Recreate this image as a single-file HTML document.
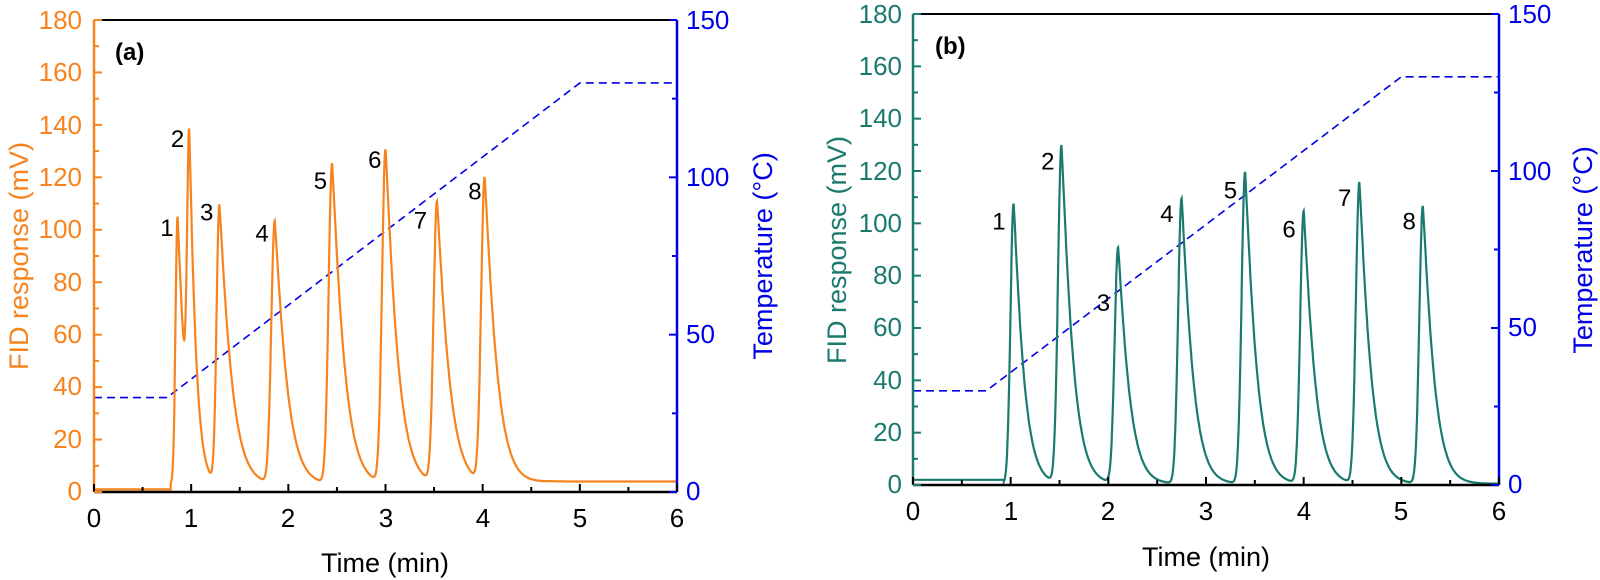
<!DOCTYPE html>
<html><head><meta charset="utf-8"><style>
html,body{margin:0;padding:0;background:#fff;}
svg{display:block;font-family:"Liberation Sans",Arial,sans-serif;}
</style></head><body>
<svg id="s" width="1600" height="580" viewBox="0 0 1600 580" xmlns="http://www.w3.org/2000/svg">
<g id="ga"></g><g id="gb"></g>
<g font-size="26" fill="#F7831E" text-anchor="end">
<text x="82" y="29">180</text><text x="82" y="81">160</text><text x="82" y="134">140</text><text x="82" y="186">120</text><text x="82" y="238">100</text><text x="82" y="291">80</text><text x="82" y="343">60</text><text x="82" y="395">40</text><text x="82" y="448">20</text><text x="82" y="500">0</text>
</g>
<text transform="translate(28,256) rotate(-90)" font-size="27" fill="#F7831E" text-anchor="middle">FID response (mV)</text>
<g font-size="26" fill="#0000E6" text-anchor="start">
<text x="686" y="29">150</text><text x="686" y="186">100</text><text x="686" y="343">50</text><text x="686" y="500">0</text>
</g>
<text transform="translate(772,256) rotate(-90)" font-size="27" fill="#0000E6" text-anchor="middle">Temperature (°C)</text>
<g font-size="26" fill="#000" text-anchor="middle">
<text x="94" y="527">0</text><text x="191" y="527">1</text><text x="288" y="527">2</text><text x="386" y="527">3</text><text x="483" y="527">4</text><text x="580" y="527">5</text><text x="677" y="527">6</text>
</g>
<text x="385" y="572" font-size="27" text-anchor="middle">Time (min)</text>
<text x="115" y="60" font-size="24" font-weight="bold">(a)</text>
<g font-size="26" fill="#1A7A6E" text-anchor="end">
<text x="902" y="23">180</text><text x="902" y="75">160</text><text x="902" y="127">140</text><text x="902" y="180">120</text><text x="902" y="232">100</text><text x="902" y="284">80</text><text x="902" y="336">60</text><text x="902" y="389">40</text><text x="902" y="441">20</text><text x="902" y="493">0</text>
</g>
<text transform="translate(846,250) rotate(-90)" font-size="27" fill="#1A7A6E" text-anchor="middle">FID response (mV)</text>
<g font-size="26" fill="#0000E6" text-anchor="start">
<text x="1508" y="23">150</text><text x="1508" y="180">100</text><text x="1508" y="336">50</text><text x="1508" y="493">0</text>
</g>
<text transform="translate(1592,250) rotate(-90)" font-size="27" fill="#0000E6" text-anchor="middle">Temperature (°C)</text>
<g font-size="26" fill="#000" text-anchor="middle">
<text x="913" y="520">0</text><text x="1011" y="520">1</text><text x="1108" y="520">2</text><text x="1206" y="520">3</text><text x="1304" y="520">4</text><text x="1401" y="520">5</text><text x="1499" y="520">6</text>
</g>
<text x="1206" y="566" font-size="27" text-anchor="middle">Time (min)</text>
<text x="935" y="54" font-size="24" font-weight="bold">(b)</text>
<g id="labs" font-size="24" fill="#000" text-anchor="middle"></g>
</svg>
<script>
var NS="http://www.w3.org/2000/svg";
function el(p,n,a){var e=document.createElementNS(NS,n);for(var k in a)e.setAttribute(k,a[k]);p.appendChild(e);return e;}
function panel(g,P){
 var X=function(t){return P.x0+(P.x1-P.x0)*t/6;};
 var Y=function(v){return P.yb-(P.yb-P.yt)*v/180;};
 var YT=function(v){return P.yb-(P.yb-P.yt)*v/150;};
 var d="M"+X(0)+","+YT(30)+" L"+X(0.75)+","+YT(30)+" L"+X(5)+","+YT(130)+" L"+X(6)+","+YT(130);
 el(g,"path",{d:d,fill:"none",stroke:"#0000E6","stroke-width":1.6,"stroke-dasharray":"8,5"});
 var pts=[];
 for(var i=0;i<=3000;i++){var t=6*i/3000;var v;
  if(t<P.start){v=P.b0;}else{v=P.b1(t);
  P.peaks.forEach(function(p){var dd=t-p[0];
   v+= dd<0? p[1]*Math.exp(-Math.pow(dd/p[2],2)) : p[1]*Math.exp(-Math.pow(dd/p[3],P.pw));});}
  pts.push(X(t).toFixed(1)+","+Y(v).toFixed(1));}
 el(g,"path",{d:"M"+pts.join(" L"),fill:"none",stroke:P.col,"stroke-width":2.2});
 el(g,"line",{x1:P.x0,y1:P.yt,x2:P.x1,y2:P.yt,stroke:"#000","stroke-width":2});
 el(g,"line",{x1:P.x0,y1:P.yb,x2:P.x1,y2:P.yb,stroke:"#000","stroke-width":2.5});
 el(g,"line",{x1:P.x0,y1:P.yt,x2:P.x0,y2:P.yb,stroke:P.col,"stroke-width":2.5});
 el(g,"line",{x1:P.x1,y1:P.yt,x2:P.x1,y2:P.yb,stroke:"#0000E6","stroke-width":2.5});
 for(var k=0;k<=12;k++){var x=X(k/2),L=k%2?5:8;el(g,"line",{x1:x,y1:P.yb,x2:x,y2:P.yb-L,stroke:"#000","stroke-width":2});}
 for(var k=0;k<=18;k++){var y=Y(k*10),L=k%2?5:8;el(g,"line",{x1:P.x0,y1:y,x2:P.x0+L,y2:y,stroke:P.col,"stroke-width":2});}
 for(var k=0;k<=6;k++){var y=YT(k*25),L=k%2?5:8;el(g,"line",{x1:P.x1,y1:y,x2:P.x1-L,y2:y,stroke:"#0000E6","stroke-width":2});}
 var lab=document.getElementById("labs");
 P.labs.forEach(function(l,i){var t=el(lab,"text",{x:X(l[0]),y:Y(l[1])+9});t.textContent=String(i+1);});
}
panel(document.getElementById("ga"),{x0:94,x1:677,yt:20,yb:492,col:"#F7831E",start:0.79,b0:1,pw:1.15,
 b1:function(t){return t<4.2?3:3+Math.min(1,(t-4.2)*2);},
 peaks:[[0.86,102,0.03,0.09],[0.98,110,0.03,0.07],[1.29,106,0.04,0.13],[1.86,100,0.05,0.13],[2.45,122,0.05,0.13],[3.0,127,0.05,0.13],[3.53,107,0.05,0.13],[4.02,116,0.05,0.13]],
 labs:[[0.75,101],[0.86,135],[1.16,107],[1.73,99],[2.33,119],[2.89,127],[3.36,104],[3.92,115]]});
panel(document.getElementById("gb"),{x0:913,x1:1499,yt:14,yb:485,col:"#1A7A6E",start:0.93,b0:2,pw:1.15,
 b1:function(t){return 0.5;},
 peaks:[[1.03,107,0.045,0.11],[1.52,129,0.05,0.12],[2.1,90,0.05,0.12],[2.75,109,0.05,0.12],[3.4,119,0.05,0.12],[4.0,104,0.05,0.12],[4.57,115,0.05,0.12],[5.22,106,0.05,0.12]],
 labs:[[0.88,101],[1.38,124],[1.95,70],[2.6,104],[3.25,113],[3.85,98],[4.42,110],[5.08,101]]});
</script>
</body></html>
